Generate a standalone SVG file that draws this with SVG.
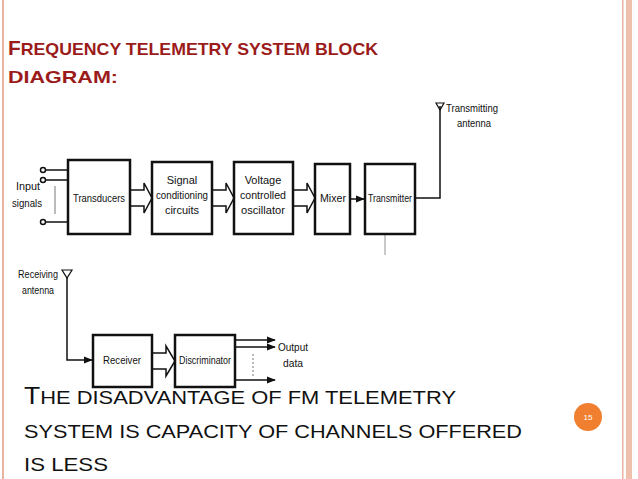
<svg xmlns="http://www.w3.org/2000/svg" width="638" height="479" viewBox="0 0 638 479">
<defs>
<style>
.b{fill:#fff;stroke:#111;stroke-width:2.5}
.l{fill:none;stroke:#111;stroke-width:1.5}
.t{font-family:"Liberation Sans",sans-serif;font-size:11px;fill:#111;text-anchor:middle}
.h{fill:#fff;stroke:#111;stroke-width:1.5}
.title{font-family:"Liberation Sans",sans-serif;font-weight:bold;fill:#9b1b1b;font-size:17px}
.body{font-family:"Liberation Sans",sans-serif;fill:#111;font-size:19px}
</style>
<marker id="a" viewBox="0 0 10 10" refX="9" refY="5" markerWidth="6" markerHeight="6" orient="auto"><path d="M0,1 L10,5 L0,9 z" fill="#111"/></marker>
</defs>
<rect width="638" height="479" fill="#fff"/>
<rect x="2" y="0" width="2" height="479" fill="#e8b4a0"/>
<rect x="622" y="0" width="1.5" height="479" fill="#e8b4a0"/>
<rect x="626" y="0" width="6" height="479" fill="#efc0ab"/>
<g id="title">
<text class="title" x="8" y="55" textLength="370" lengthAdjust="spacingAndGlyphs"><tspan font-size="20">F</tspan>REQUENCY TELEMETRY SYSTEM BLOCK</text>
<text class="title" x="8" y="83" textLength="110" lengthAdjust="spacingAndGlyphs">DIAGRAM:</text>
</g>
<g id="connectors">
<circle cx="43" cy="170" r="2.5" class="h"/><circle cx="43" cy="180" r="2.5" class="h"/><circle cx="43" cy="222" r="2.5" class="h"/>
<path class="l" d="M46,170H68M46,180H68M46,222H68"/>
<path d="M55,186V214" stroke="#555" stroke-width="0.8"/>
<path class="h" d="M130,190H144V183L152,198L144,213V206H130Z"/>
<path class="h" d="M212,190H226V183L234,198L226,213V206H212Z"/>
<path class="h" d="M293,190H307V183L315,198L307,213V206H293Z"/>
<path class="l" d="M350,199H364" marker-end="url(#a)"/>
<path class="l" d="M415,198H440V106"/>
<path d="M436,103H444L440,110Z" fill="none" stroke="#111" stroke-width="1.2"/>
<path d="M385,225V255" stroke="#777" stroke-width="0.8"/>
<path d="M62,270H72L67,278Z" fill="none" stroke="#111" stroke-width="1.2"/>
<path class="l" d="M67,278V360H92" marker-end="url(#a)"/>
<path class="h" d="M152,353H166V346L175,361L166,376V369H152Z"/>
<path class="l" d="M235,340H275" marker-end="url(#a)"/>
<path class="l" d="M235,347H275" marker-end="url(#a)"/>
<path class="l" d="M235,380H275" marker-end="url(#a)"/>
<path d="M253,354V376" stroke="#555" stroke-width="0.8" stroke-dasharray="2,2"/>
</g>
<g id="transducers"><rect class="b" x="68" y="160" width="62" height="74"/><text class="t" x="99" y="202" textLength="52" lengthAdjust="spacingAndGlyphs">Transducers</text></g>
<g id="signal"><rect class="b" x="152" y="162" width="60" height="72"/><text class="t" x="182" y="184">Signal</text><text class="t" x="182" y="199" textLength="52" lengthAdjust="spacingAndGlyphs">conditioning</text><text class="t" x="182" y="214">circuits</text></g>
<g id="vco"><rect class="b" x="234" y="162" width="59" height="72"/><text class="t" x="263" y="184">Voltage</text><text class="t" x="263" y="199" textLength="46" lengthAdjust="spacingAndGlyphs">controlled</text><text class="t" x="263" y="214" textLength="44" lengthAdjust="spacingAndGlyphs">oscillator</text></g>
<g id="mixer"><rect class="b" x="315" y="164" width="35" height="70"/><text class="t" x="333" y="202" textLength="26" lengthAdjust="spacingAndGlyphs">Mixer</text></g>
<g id="transmitter"><rect class="b" x="365" y="164" width="50" height="70"/><text class="t" x="390" y="202" textLength="44" lengthAdjust="spacingAndGlyphs">Transmitter</text></g>
<g id="tx-antenna"><text class="t" x="472" y="112" textLength="52" lengthAdjust="spacingAndGlyphs">Transmitting</text><text class="t" x="474" y="127" textLength="34" lengthAdjust="spacingAndGlyphs">antenna</text></g>
<g id="input"><text class="t" x="28" y="190" textLength="24" lengthAdjust="spacingAndGlyphs">Input</text><text class="t" x="27" y="207" textLength="30" lengthAdjust="spacingAndGlyphs">signals</text></g>
<g id="rx-antenna"><text class="t" x="38" y="278" textLength="40" lengthAdjust="spacingAndGlyphs">Receiving</text><text class="t" x="38" y="294" textLength="32" lengthAdjust="spacingAndGlyphs">antenna</text></g>
<g id="receiver"><rect class="b" x="93" y="335" width="59" height="52"/><text class="t" x="122" y="364" textLength="38" lengthAdjust="spacingAndGlyphs">Receiver</text></g>
<g id="discriminator"><rect class="b" x="175" y="335" width="60" height="52"/><text class="t" x="205" y="364" textLength="52" lengthAdjust="spacingAndGlyphs">Discriminator</text></g>
<g id="output"><text class="t" x="293" y="351" textLength="30" lengthAdjust="spacingAndGlyphs">Output</text><text class="t" x="293" y="367" textLength="20" lengthAdjust="spacingAndGlyphs">data</text></g>
<g id="body">
<text class="body" x="24" y="404" textLength="432" lengthAdjust="spacingAndGlyphs"><tspan font-size="23">T</tspan>HE DISADVANTAGE OF FM TELEMETRY</text>
<text class="body" x="24" y="438" textLength="498" lengthAdjust="spacingAndGlyphs">SYSTEM IS CAPACITY OF CHANNELS OFFERED</text>
<text class="body" x="24" y="471" textLength="84" lengthAdjust="spacingAndGlyphs">IS LESS</text>
</g>
<g id="page"><circle cx="588" cy="417" r="14" fill="#f08030"/><text x="588" y="420" font-family="Liberation Sans,sans-serif" font-size="8" fill="#fff" text-anchor="middle">15</text></g>
</svg>
